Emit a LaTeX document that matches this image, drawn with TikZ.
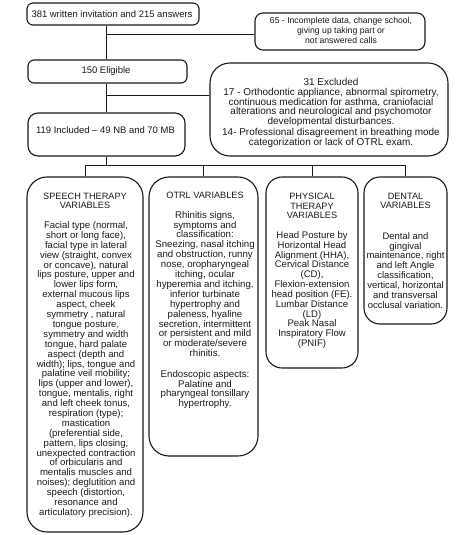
\documentclass[tikz,border=0pt]{standalone}
\usepackage{fontspec}
\setmainfont{Liberation Sans}
\begin{document}
\begin{tikzpicture}[x=1bp,y=-1bp,
  box/.style={draw=black!90, line width=1.1bp, inner sep=0pt, rounded corners=#1},
  conn/.style={draw=black!90, line width=0.9bp},
  txt/.style={inner sep=0pt, align=center, text=black!90, font=\fontsize{9.5}{9.9}\selectfont},
  hdr/.style={inner sep=0pt, align=center, text=black!90, font=\fontsize{9.2}{9.5}\selectfont},
  btxt/.style={inner sep=0pt, align=center, text=black!90, font=\fontsize{#1}{9.93}\selectfont}
]
\useasboundingbox (0,0) rectangle (474,535);

% boxes
\node[box=6bp, minimum width=172bp, minimum height=22bp] (b1) at (113,14) {};
\node[box=8bp, minimum width=170bp, minimum height=37bp] (b65) at (340,31.5) {};
\node[box=6bp, minimum width=159bp, minimum height=23bp] (b150) at (107.5,71.5) {};
\node[box=20bp, minimum width=238bp, minimum height=93bp] (bexc) at (329,109.5) {};
\node[box=10bp, minimum width=157bp, minimum height=43bp] (b119) at (106.5,134.5) {};
\node[box=20bp, minimum width=116bp, minimum height=355bp] (sp) at (85,354.5) {};
\node[box=20bp, minimum width=109bp, minimum height=279bp] (ot) at (203.5,316.5) {};
\node[box=16bp, minimum width=92bp, minimum height=191bp] (pt) at (312,272.5) {};
\node[box=16bp, minimum width=83bp, minimum height=147bp] (dn) at (405.5,250.5) {};

% texts
\node[txt] (t1) at (112,14) {381 written invitation and 215 answers};
\node[txt, font=\fontsize{8.7}{10}\selectfont] (t65) at (341,30.5) {65 - Incomplete data, change school,\\giving up taking part or\\not answered calls};
\node[txt] (t150) at (106,71.5) {150 Eligible};
\node[txt] (t119) at (105.5,130.5) {119 Included -- 49 NB and 70 MB};
\node[txt, font=\fontsize{10}{9.75}\selectfont] (texc) at (331,113) {31 Excluded\\17 - Orthodontic appliance, abnormal spirometry,\\continuous medication for asthma, craniofacial\\alterations and neurological and psychomotor\\developmental disturbances.\\[1.5bp]14- Professional disagreement in breathing mode\\categorization or lack of OTRL exam.};

\node[hdr] (spH) at (85,201) {SPEECH THERAPY\\VARIABLES};
\node[btxt=9.6] (spB) at (86,369.5) {Facial type (normal,\\short or long face),\\facial type in lateral\\view (straight, convex\\or concave), natural\\lips posture, upper and\\lower lips form,\\external mucous lips\\aspect, cheek\\symmetry , natural\\tongue posture,\\symmetry and width\\tongue, hard palate\\aspect (depth and\\width); lips, tongue and\\palatine veil mobility;\\lips (upper and lower),\\tongue, mentalis, right\\and left cheek tonus,\\respiration (type);\\mastication\\(preferential side,\\pattern, lips closing,\\unexpected contraction\\of orbicularis and\\mentalis muscles and\\noises); deglutition and\\speech (distortion,\\resonance and\\articulatory precision).};

\node[hdr] (otH) at (205,195.5) {OTRL VARIABLES};
\node[btxt=9.7] (otB) at (205,284) {Rhinitis signs,\\symptoms and\\classification:\\Sneezing, nasal itching\\and obstruction, runny\\nose, oropharyngeal\\itching, ocular\\hyperemia and itching,\\inferior turbinate\\hypertrophy and\\paleness, hyaline\\secretion, intermittent\\or persistent and mild\\or moderate/severe\\rhinitis.};
\node[btxt=9.7] (otE) at (205,389.5) {Endoscopic aspects:\\Palatine and\\pharyngeal tonsillary\\hypertrophy.};

\node[hdr] (ptH) at (312,206) {PHYSICAL\\THERAPY\\VARIABLES};
\node[txt, font=\fontsize{9.6}{9.88}\selectfont] (ptB) at (312,290) {Head Posture by\\Horizontal Head\\Alignment (HHA),\\Cervical Distance\\(CD),\\Flexion-extension\\head position (FE).\\Lumbar Distance\\(LD)\\Peak Nasal\\Inspiratory Flow\\(PNIF)};

\node[hdr] (dnH) at (405.5,201) {DENTAL\\VARIABLES};
\node[txt, font=\fontsize{9.5}{9.96}\selectfont] (dnB) at (405.5,270.5) {Dental and\\gingival\\maintenance, right\\and left Angle\\classification,\\vertical, horizontal\\and transversal\\occlusal variation.};

% connectors
\coordinate (j1) at (106,34);
\coordinate (j2) at (106,95);
\coordinate (j3) at (106,165);
\draw[conn] (b1.south -| j1) -- (b150.north -| j1);
\draw[conn] (j1) -- (j1 -| b65.west);
\draw[conn] (b150.south -| j2) -- (b119.north -| j2);
\draw[conn] (j2) -- (j2 -| bexc.west);
\draw[conn] (b119.south -| j3) -- (j3);
\draw[conn] (sp.north) -- (sp.north |- j3) -- (dn.north |- j3) -- (dn.north);
\draw[conn] (ot.north |- j3) -- (ot.north);
\draw[conn] (pt.north |- j3) -- (pt.north);
\end{tikzpicture}
\end{document}
